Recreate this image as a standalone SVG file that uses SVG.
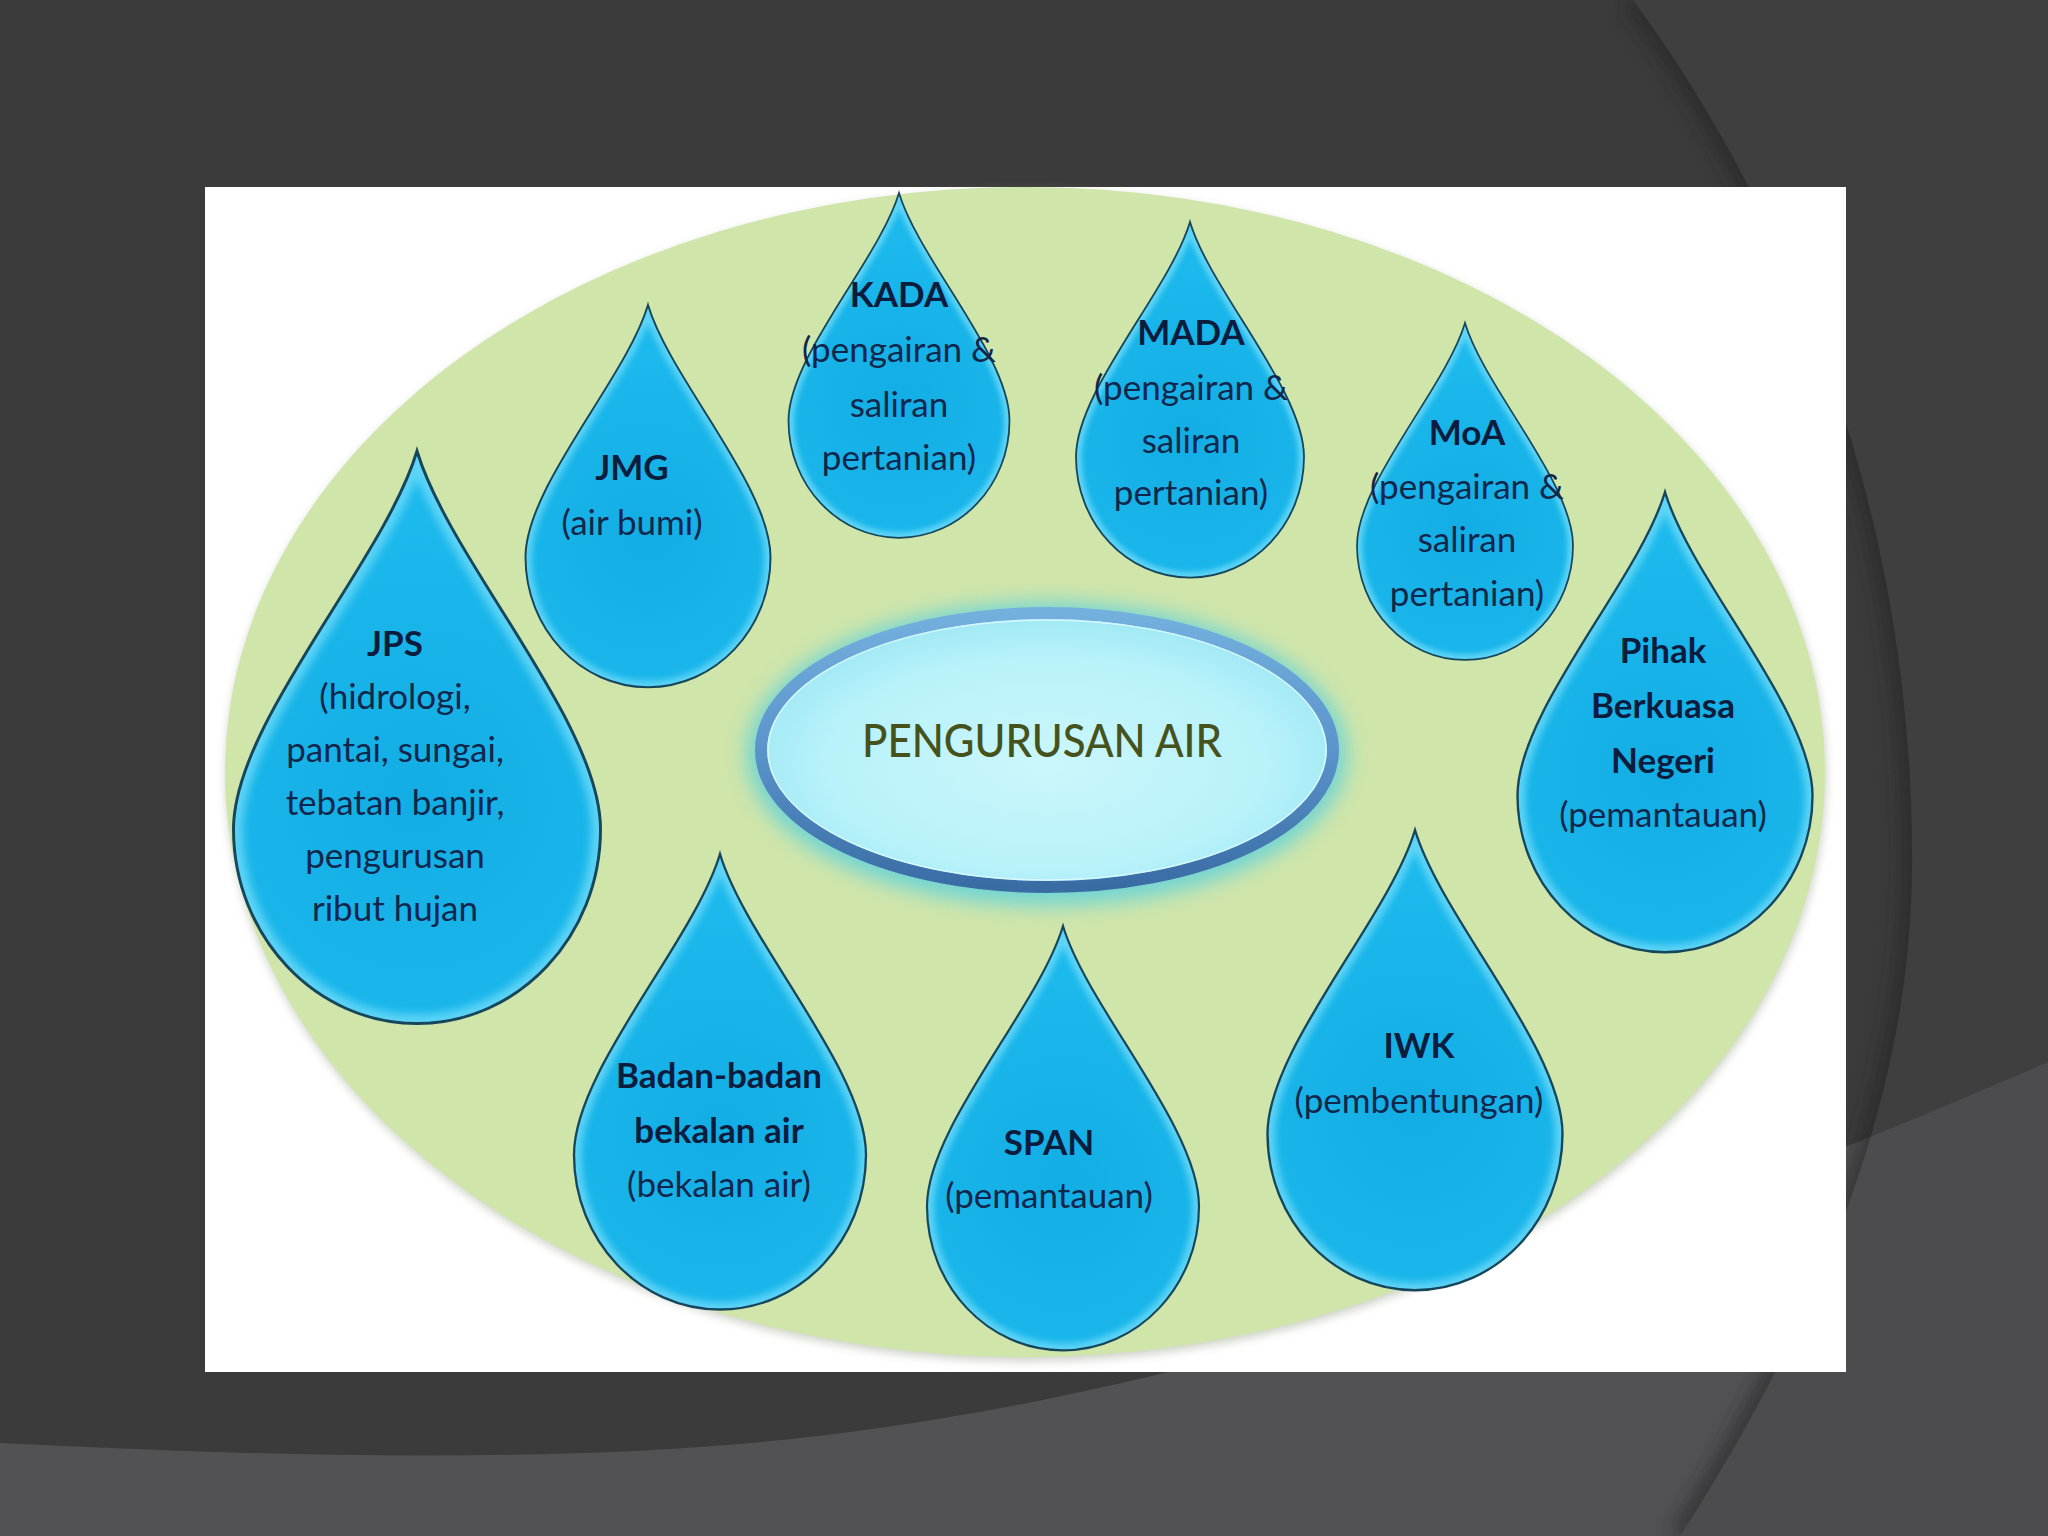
<svg xmlns="http://www.w3.org/2000/svg" width="2048" height="1536" viewBox="0 0 2048 1536">
  <style>
    .t { font-family: Lato, "Open Sans", "Liberation Sans", sans-serif; font-size: 35px; fill: #10264a; text-anchor: middle; }
    .b { font-weight: 700; fill: #0b1c3c; }
    .title { font-family: Lato, "Open Sans", "Liberation Sans", sans-serif; font-size: 46px; font-weight: 500; fill: #45521c; text-anchor: middle; }
  </style>
  <defs>
    <path id="dropShape" d="M0,0 C0.09,0.3 0.5,0.74 0.5,1.03 C0.5,1.323 0.276,1.56 0,1.56 C-0.276,1.56 -0.5,1.323 -0.5,1.03 C-0.5,0.74 -0.09,0.3 0,0 Z"/>
    <clipPath id="dropClip"><use href="#dropShape"/></clipPath>
    <radialGradient id="dropFill" gradientUnits="userSpaceOnUse" cx="0" cy="0.95" r="0.75">
      <stop offset="0" stop-color="#12ade4"/>
      <stop offset="1" stop-color="#1cb9ed"/>
    </radialGradient>
    <filter id="rimBlur" x="-0.2" y="-0.2" width="1.4" height="1.4">
      <feGaussianBlur stdDeviation="0.012"/>
    </filter>
    <g id="drop">
      <use href="#dropShape" fill="url(#dropFill)"/>
      <g clip-path="url(#dropClip)">
        <use href="#dropShape" fill="none" stroke="#74def9" stroke-width="0.05" opacity="0.75" filter="url(#rimBlur)"/>
      </g>
      <use href="#dropShape" fill="none" stroke="#15465c" stroke-width="0.008"/>
    </g>
    <linearGradient id="ringGrad" x1="0" y1="0" x2="0" y2="1">
      <stop offset="0" stop-color="#74b0de"/>
      <stop offset="0.5" stop-color="#5a94cb"/>
      <stop offset="1" stop-color="#3a6ca4"/>
    </linearGradient>
    <radialGradient id="centerFill" cx="0.5" cy="0.55" r="0.55">
      <stop offset="0" stop-color="#caf7fb"/>
      <stop offset="0.7" stop-color="#b9f2fa"/>
      <stop offset="1" stop-color="#9de8f4"/>
    </radialGradient>
    <filter id="glow" x="-0.2" y="-0.3" width="1.4" height="1.6">
      <feGaussianBlur stdDeviation="10"/>
    </filter>
    <filter id="soft" x="-0.1" y="-0.1" width="1.2" height="1.2">
      <feGaussianBlur stdDeviation="5"/>
    </filter>
    <filter id="shadowBlur" x="-0.2" y="-0.2" width="1.4" height="1.4">
      <feGaussianBlur stdDeviation="9"/>
    </filter>
    <path id="pageShape" d="M1633,0 C1780,200 1915,500 1912,870 C1910,1120 1800,1350 1680,1536 L2048,1536 L2048,0 Z"/>
    <clipPath id="pageClip"><use href="#pageShape"/></clipPath>
  </defs>

  <!-- background -->
  <rect x="0" y="0" width="2048" height="1536" fill="#3b3b3b"/>
  <path d="M0,1443 C300,1458 600,1465 850,1432 C1150,1392 1500,1300 2048,1062 L2048,1536 L0,1536 Z" fill="#525153"/>
  <path d="M1633,0 C1780,200 1915,500 1912,870 C1910,1120 1800,1350 1680,1536" fill="none" stroke="#222" stroke-width="22" opacity="0.55" filter="url(#shadowBlur)"/>
  <use href="#pageShape" fill="#3f3f3f"/>
  <path d="M0,1443 C300,1458 600,1465 850,1432 C1150,1392 1500,1300 2048,1062 L2048,1536 L0,1536 Z" fill="#4c4b4d" clip-path="url(#pageClip)"/>

  <!-- white panel -->
  <rect x="205" y="187" width="1641" height="1185" fill="#ffffff"/>

  <!-- green ellipse -->
  <g id="backdrop">
    <ellipse cx="1026" cy="776" rx="800" ry="585" fill="#9aa38a" opacity="0.5" filter="url(#soft)"/>
    <ellipse cx="1025" cy="772" rx="800" ry="585" fill="#cfe5aa"/>
  </g>

  <!-- center -->
  <g id="node-center">
    <ellipse cx="1047" cy="754" rx="300" ry="152" fill="#62d2da" opacity="0.85" filter="url(#glow)"/>
    <ellipse cx="1047" cy="750" rx="286" ry="137" fill="url(#centerFill)" stroke="url(#ringGrad)" stroke-width="12"/>
    <ellipse cx="1047" cy="750" rx="279" ry="130" fill="none" stroke="#e2fbff" stroke-width="1.5" opacity="0.8"/>
    <text class="title" x="1042" y="757" textLength="360" lengthAdjust="spacingAndGlyphs">PENGURUSAN AIR</text>
  </g>

  <g id="node-jps">
    <use href="#drop" transform="translate(417,451) scale(367)"/>
    <text class="t b" x="395" y="656">JPS</text>
    <text class="t" x="395" y="709">(hidrologi,</text>
    <text class="t" x="395" y="762">pantai, sungai,</text>
    <text class="t" x="395" y="815">tebatan banjir,</text>
    <text class="t" x="395" y="868">pengurusan</text>
    <text class="t" x="395" y="921">ribut hujan</text>
  </g>

  <g id="node-jmg">
    <use href="#drop" transform="translate(648,305) scale(245)"/>
    <text class="t b" x="632" y="480">JMG</text>
    <text class="t" x="632" y="535">(air bumi)</text>
  </g>

  <g id="node-kada">
    <use href="#drop" transform="translate(899,193) scale(221)"/>
    <text class="t b" x="899" y="307">KADA</text>
    <text class="t" x="899" y="362">(pengairan &amp;</text>
    <text class="t" x="899" y="417">saliran</text>
    <text class="t" x="899" y="470">pertanian)</text>
  </g>

  <g id="node-mada">
    <use href="#drop" transform="translate(1190,222) scale(228)"/>
    <text class="t b" x="1191" y="345">MADA</text>
    <text class="t" x="1191" y="400">(pengairan &amp;</text>
    <text class="t" x="1191" y="453">saliran</text>
    <text class="t" x="1191" y="505">pertanian)</text>
  </g>

  <g id="node-moa">
    <use href="#drop" transform="translate(1465,323) scale(216)"/>
    <text class="t b" x="1467" y="445">MoA</text>
    <text class="t" x="1467" y="499">(pengairan &amp;</text>
    <text class="t" x="1467" y="552">saliran</text>
    <text class="t" x="1467" y="606">pertanian)</text>
  </g>

  <g id="node-pihak">
    <use href="#drop" transform="translate(1665,492) scale(295)"/>
    <text class="t b" x="1663" y="663">Pihak</text>
    <text class="t b" x="1663" y="718">Berkuasa</text>
    <text class="t b" x="1663" y="773">Negeri</text>
    <text class="t" x="1663" y="827">(pemantauan)</text>
  </g>

  <g id="node-iwk">
    <use href="#drop" transform="translate(1415,830) scale(295)"/>
    <text class="t b" x="1419" y="1058">IWK</text>
    <text class="t" x="1419" y="1113">(pembentungan)</text>
  </g>

  <g id="node-span">
    <use href="#drop" transform="translate(1063,926) scale(272)"/>
    <text class="t b" x="1049" y="1155">SPAN</text>
    <text class="t" x="1049" y="1208">(pemantauan)</text>
  </g>

  <g id="node-badan">
    <use href="#drop" transform="translate(720,854) scale(292)"/>
    <text class="t b" x="719" y="1088">Badan-badan</text>
    <text class="t b" x="719" y="1143">bekalan air</text>
    <text class="t" x="719" y="1197">(bekalan air)</text>
  </g>

  <g id="connectors"></g>
</svg>
